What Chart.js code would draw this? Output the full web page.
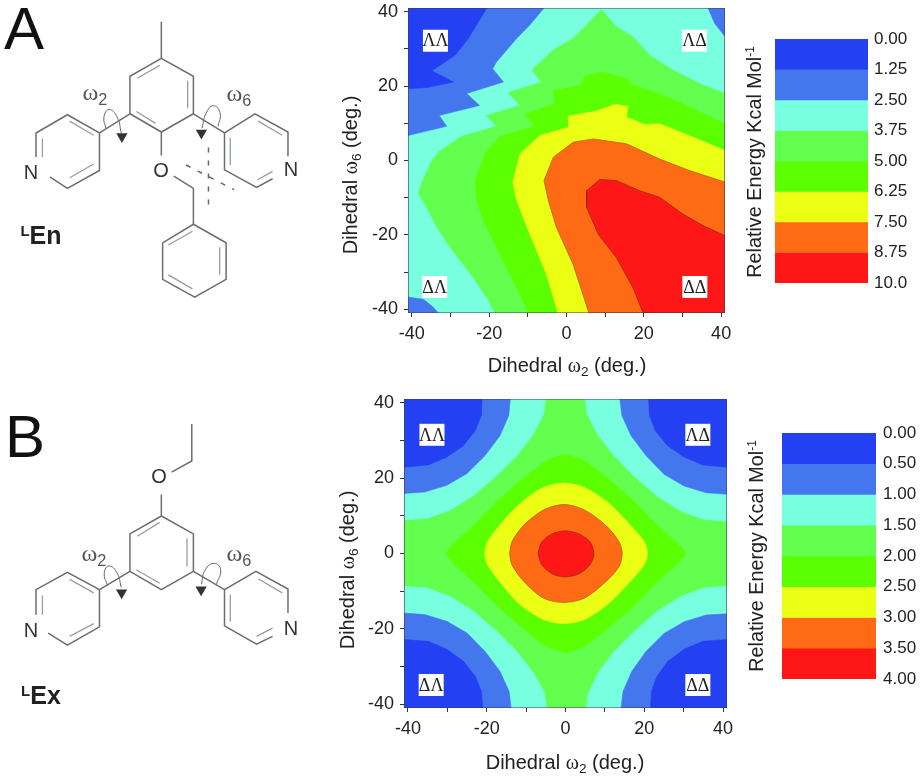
<!DOCTYPE html>
<html>
<head>
<meta charset="utf-8">
<title>Dihedral energy maps</title>
<script src="https://cdn.jsdelivr.net/npm/chart.js@4"></script>
<style>
    html, body { margin: 0; padding: 0; background: #fff; }
    #page { position: relative; width: 921px; height: 778px; overflow: hidden; font-family: "Liberation Sans", Arial, sans-serif; color: #222; }
    canvas { position: absolute; }
    .t { position: absolute; white-space: nowrap; transform: translate(-50%, -50%); line-height: 1; }
    .rot { transform: translate(-50%, -50%) rotate(-90deg); }
    .axis { font-size: 20px; }
    .bar { font-size: 19.8px; }
    .w { font-family: "Liberation Serif", serif; }
    .s { font-size: 0.68em; position: relative; top: 0.3em; }
    .sup { font-size: 0.6em; position: relative; top: -0.55em; }
    .mol { font-size: 20px; color: #333; }
    .om { font-size: 24px; color: #555; }
    .big { font-size: 60px; color: #111; }
    .name { font-size: 25px; font-weight: bold; color: #222; }
</style>
</head>
<body>
<div id="page">
    <canvas id="molA" width="340" height="330" style="left:0;top:0"></canvas>
    <canvas id="molB" width="340" height="330" style="left:0;top:400px"></canvas>
    <canvas id="mapA" width="417" height="383" style="left:338px;top:0"></canvas>
    <canvas id="mapB" width="423" height="393" style="left:334px;top:385px"></canvas>
    <canvas id="barA" width="146" height="280" style="left:775px;top:20px"></canvas>
    <canvas id="barB" width="139" height="290" style="left:782px;top:410px"></canvas>

    <span class="t big" style="left:24px;top:29px">A</span>
    <span class="t big" style="left:25px;top:437px">B</span>
    <span class="t mol" style="left:31px;top:172px">N</span>
    <span class="t mol" style="left:291px;top:169px">N</span>
    <span class="t mol" style="left:161px;top:170px">O</span>
    <span class="t om" style="left:95px;top:92px"><span class="w">ω</span><span class="s">2</span></span>
    <span class="t om" style="left:239px;top:93px"><span class="w">ω</span><span class="s">6</span></span>
    <span class="t name" style="left:41px;top:235px"><span class="sup">L</span>En</span>
    <span class="t mol" style="left:31px;top:630px">N</span>
    <span class="t mol" style="left:291px;top:628px">N</span>
    <span class="t mol" style="left:159px;top:476px">O</span>
    <span class="t om" style="left:94px;top:553px"><span class="w">ω</span><span class="s">2</span></span>
    <span class="t om" style="left:239px;top:553px"><span class="w">ω</span><span class="s">6</span></span>
    <span class="t name" style="left:41px;top:695px"><span class="sup">L</span>Ex</span>

    <span class="t axis" style="left:567px;top:365px">Dihedral <span class="w">ω</span><span class="s">2</span> (deg.)</span>
    <span class="t axis rot" style="left:350px;top:175px">Dihedral <span class="w">ω</span><span class="s">6</span> (deg.)</span>
    <span class="t axis" style="left:565px;top:762px">Dihedral <span class="w">ω</span><span class="s">2</span> (deg.)</span>
    <span class="t axis rot" style="left:347px;top:570px">Dihedral <span class="w">ω</span><span class="s">6</span> (deg.)</span>
    <span class="t bar rot" style="left:755px;top:162px">Relative Energy Kcal Mol<span class="sup">-1</span></span>
    <span class="t bar rot" style="left:757px;top:556px">Relative Energy Kcal Mol<span class="sup">-1</span></span>
</div>
<script>
        const fontName = '"Liberation Sans", Arial, sans-serif';
        const axisTicks = [-40, -30, -20, -10, 0, 10, 20, 30, 40];
        const axisEdge = 41;

        const darkBlue = '#2341f2';
        const blue = '#4477ee';
        const cyan = '#78ffe0';
        const lightGreen = '#62ff4e';
        const green = '#5cff02';
        const yellow = '#ebff14';
        const orange = '#ff6a14';
        const red = '#ff1616';
        const levelColors = [darkBlue, blue, cyan, lightGreen, green, yellow, orange, red];

        // contour regions of panel A, [omega2, omega6]
        const aDarkBlue = [[-41, 41], [-41, 19.3], [-36.1, 19.6], [-29.2, 21.1], [-34.8, 24.1], [-28.8, 28.3], [-25.4, 32.8], [-20.6, 41]];
        const aBlue = [[-41, 41], [-41, 6.7], [-31, 9.2], [-32.9, 12.1], [-22.5, 14.8], [-25.8, 18], [-16.3, 21.1], [-19.1, 24.7], [-18.1, 26.5], [-12.9, 32.8], [-9.5, 36.4], [-5.8, 41]];
        const aBlueLow = [[-41, -41], [-41, -36.7], [-37, -37.3], [-34.8, -39.1], [-33.1, -41]];
        const aBlueHigh = [[41, 41], [36.6, 41], [38.3, 36.9], [41, 33.3]];
        const aLightGreen = [[9, 40.6], [5.6, 36.9], [1.7, 32.8], [-3.4, 29.7], [-9, 24.3], [-6.5, 21.1], [-15.1, 18.2], [-12, 14.8], [-20.8, 12.1], [-18.1, 9.2], [-27.1, 6.5], [-32.7, 2.7], [-34.8, 0], [-37.4, -5.8], [-38.3, -8.8], [-35.7, -13.5], [-33.5, -18], [-30.1, -23.4], [-24.1, -31.5], [-20.6, -36.9], [-18.5, -41], [41, -41], [41, 18], [34.4, 20.7], [27.5, 24.3], [21.5, 28.3], [17.2, 33.3], [12.9, 36]];
        const aGreen = [[41, 9.9], [31.8, 14.4], [24.1, 18], [17.2, 20.2], [15.5, 22], [9.5, 23.8], [4.7, 22.7], [3.9, 20.2], [-3.4, 18.9], [-3, 15.3], [-10.8, 12.4], [-8.2, 9.2], [-17.2, 6.5], [-21.1, 1.8], [-23.7, -5.8], [-23.2, -10.8], [-21.5, -16.2], [-17.2, -25.2], [-12.9, -34.2], [-9.9, -41], [41, -41]];
        const aYellow = [[41, 2.7], [32.7, 6.3], [24.1, 9.9], [20.2, 9.7], [15.5, 11.7], [15.9, 14.6], [12.5, 15.1], [7.7, 13.3], [0.4, 11.9], [0.6, 9], [-6.9, 6.7], [-12, 1.8], [-13.9, -5.8], [-12.9, -10.8], [-9.5, -19.8], [-5.2, -30.6], [-2.2, -41], [41, -41]];
        const aOrange = [[41, -5.8], [31.8, -2.7], [24.1, 0.4], [15.5, 4.5], [6.9, 5.8], [1.7, 4.9], [-3.4, 0.9], [-5.8, -5.4], [-4.7, -10.8], [-2.6, -18], [1.7, -27.9], [5.8, -41], [41, -41]];
        const aRed = [[41, -20.2], [35.3, -17.5], [30.1, -14.4], [24.1, -9.9], [18.9, -8.1], [12.9, -5.4], [8.6, -5.1], [5.2, -8.1], [5.2, -12.6], [8.2, -19.8], [12.9, -26.1], [17.2, -34.2], [19.8, -41], [41, -41]];

        // contour regions of panel B, corner by corner
        const bCyanTL = [[-41, 41], [-5.1, 41], [-5.5, 37], [-8.1, 31.7], [-12.3, 26], [-17.4, 20.7], [-23.3, 15.4], [-29.3, 11.5], [-35.2, 9.3], [-41, 8.9]];
        const bCyanTR = [[41, 41], [5, 41], [5.5, 37], [8.1, 31.7], [12.3, 26], [17.4, 20.5], [23.3, 15.2], [29.3, 11.2], [35.2, 9], [41, 8.6]];
        const bCyanBL = [[-41, -41], [-4.8, -41], [-5.3, -37], [-8.1, -31.7], [-12.3, -26], [-17.4, -20.7], [-23.3, -15.3], [-29.3, -11.4], [-35.2, -9.1], [-41, -8.7]];
        const bCyanBR = [[41, -41], [5.3, -41], [5.8, -37], [8.3, -31.7], [12.3, -26], [17.4, -20.7], [23.3, -15.3], [29.3, -11.4], [35.2, -9.1], [41, -8.7]];
        const bBlueTL = [[-41, 41], [-14, 41], [-14.4, 36.6], [-16.6, 31.3], [-20.4, 26], [-25, 21.2], [-30.1, 18.1], [-35.7, 16.3], [-41, 15.9]];
        const bBlueTR = [[41, 41], [13.8, 41], [14.3, 36.6], [16.6, 31.3], [20.4, 26], [25, 21], [30.1, 17.9], [35.7, 16.1], [41, 15.7]];
        const bBlueBL = [[-41, -41], [-13.8, -41], [-14.3, -36.6], [-16.6, -31.3], [-20.4, -26], [-25, -21.1], [-30.1, -18], [-35.7, -16.2], [-41, -15.8]];
        const bBlueBR = [[41, -41], [14.1, -41], [14.6, -36.6], [16.8, -31.3], [20.4, -26], [25, -21.2], [30.1, -18.1], [35.7, -16.3], [41, -16]];
        const bDarkBlueTL = [[-41, 41], [-21.2, 41], [-21.4, 36.6], [-22.9, 32.6], [-25.9, 28.6], [-30.1, 25.6], [-34.8, 23.5], [-41, 22.9]];
        const bDarkBlueTR = [[41, 41], [21.1, 41], [21.3, 36.6], [22.8, 32.6], [25.9, 28.6], [30.1, 25.6], [34.8, 23.5], [41, 22.9]];
        const bDarkBlueBL = [[-41, -41], [-21, -41], [-21.3, -36.6], [-22.9, -32.6], [-25.9, -28.6], [-30.1, -25.4], [-34.8, -23.3], [-41, -22.8]];
        const bDarkBlueBR = [[41, -41], [21.6, -41], [21.8, -36.6], [23.2, -32.6], [26, -28.6], [30.1, -25.4], [34.8, -23.3], [41, -22.8]];
        const bGreen = [[-30.4, 0], [-28.4, 2.7], [-23.3, 7.5], [-16.6, 14.6], [-9.8, 20.7], [-4.7, 24.7], [0, 26.2], [4.7, 24.7], [9.8, 20.7], [16.6, 14.6], [23.3, 7.5], [28.4, 2.7], [30.5, 0], [28.4, -2.7], [23.3, -7.5], [16.6, -14.6], [9.8, -20.7], [4.7, -24.7], [0, -26.3], [-4.7, -24.7], [-9.8, -20.7], [-16.6, -14.6], [-23.3, -7.5], [-28.4, -2.7]];
        const bYellow = [[-20.6, 0], [-19.8, 3.1], [-15.7, 8.8], [-10.6, 14.1], [-5.5, 17.6], [-0.4, 18.7], [4.7, 17.6], [10.6, 13.7], [15.7, 8.4], [20, 3.1], [20.8, 0], [20, -3], [15.7, -8.3], [10.6, -13.6], [4.7, -17.6], [-0.4, -18.6], [-5.5, -17.6], [-11.5, -13.6], [-16.1, -8.3], [-19.8, -3]];
        const bOrange = [[-14.2, 0], [-13.6, 3.1], [-10.6, 7.5], [-5.5, 11.6], [-0.4, 13], [4.7, 11.6], [10.2, 7.5], [13.6, 3.1], [14.4, 0], [13.6, -3.5], [9.8, -7.9], [4.7, -11.9], [-0.4, -13], [-5.5, -11.9], [-10.6, -7.4], [-13.6, -3]];
        const bRed = [[-7, 0], [-6, 3.1], [-3.4, 5.2], [0, 6], [3.4, 5.2], [6.2, 3.1], [7.2, 0], [6.2, -3], [3.4, -5.4], [0, -6.2], [-3.4, -5.4], [-6, -3]];

        const wholeMap = [[-41, -41], [41, -41], [41, 41], [-41, 41]];

        // corner tags of the maps
        const cornerText = ['ΛΛ', 'ΛΔ', 'ΔΛ', 'ΔΔ'];
        const cornerXA = [-33.9, 33.1, -34.1, 33.2];
        const cornerYA = [32.2, 32.2, -34, -34];
        const cornerXB = [-33.9, 33.6, -34.1, 33.6];
        const cornerYB = [31.5, 31.5, -34.9, -34.9];

        // colour bars
        const levelsA = [0, 1.25, 2.5, 3.75, 5, 6.25, 7.5, 8.75, 10];
        const levelLabelsA = ['0.00', '1.25', '2.50', '3.75', '5.00', '6.25', '7.50', '8.75', '10.0'];
        const levelsB = [0, 0.5, 1, 1.5, 2, 2.5, 3, 3.5, 4];
        const levelLabelsB = ['0.00', '0.50', '1.00', '1.50', '2.00', '2.50', '3.00', '3.50', '4.00'];

        // structure drawings, polylines as x,y,x,y...
        const bondsA = [
            [483, 48, 483, 162],
            [483, 162, 583, 218, 583, 335, 483, 392, 385, 335, 385, 218, 483, 162],
            [385, 335, 290, 395, 190, 338, 92, 395, 92, 470],
            [290, 395, 290, 512, 190, 568, 135, 532],
            [583, 335, 680, 395, 775, 335, 878, 392, 878, 468],
            [680, 395, 680, 510, 780, 565, 830, 538],
            [483, 392, 483, 465],
            [522, 530, 583, 568, 583, 680],
            [583, 680, 685, 738, 685, 852, 587, 908, 487, 852, 487, 738, 583, 680]
        ];
        const innerA = [
            [478, 184, 408, 224], [565, 232, 565, 318], [405, 328, 465, 365],
            [197, 358, 272, 402], [272, 492, 197, 535], [112, 412, 112, 470],
            [698, 410, 698, 495], [785, 358, 860, 402], [782, 542, 830, 515],
            [580, 702, 505, 745], [665, 752, 665, 838], [505, 838, 580, 882]
        ];
        const turnsA = [
            [310, 380, 304, 345, 320, 322, 345, 345, 358, 395],
            [660, 375, 666, 332, 645, 310, 622, 335, 610, 380]
        ];
        const headsA = [[360, 406], [608, 395]];
        const dashesA = [[630, 440, 630, 625], [560, 495, 710, 572]];

        const bondsB = [
            [578, 55, 578, 170, 515, 205],
            [483, 275, 483, 342],
            [483, 342, 583, 398, 583, 515, 483, 572, 385, 515, 385, 398, 483, 342],
            [385, 515, 290, 572, 190, 518, 92, 572, 92, 650],
            [290, 572, 290, 688, 190, 745, 130, 708],
            [583, 515, 680, 572, 778, 515, 878, 570, 878, 645],
            [680, 572, 680, 685, 780, 742, 830, 718]
        ];
        const innerB = [
            [478, 362, 408, 405], [563, 412, 563, 500], [405, 510, 478, 552],
            [197, 540, 272, 582], [272, 678, 197, 718], [112, 590, 112, 650],
            [698, 588, 698, 672], [785, 538, 860, 582], [780, 718, 830, 692]
        ];
        const turnsB = [
            [315, 560, 305, 520, 320, 498, 345, 520, 358, 565],
            [655, 555, 668, 510, 648, 490, 620, 510, 608, 555]
        ];
        const headsB = [[359, 582], [607, 572]];

        function region(points, color, edge, bend) {
            return {
                data: points.concat([points[0]]).map(p => ({x: p[0], y: p[1]})),
                showLine: true,
                pointRadius: 0,
                backgroundColor: color,
                borderColor: edge || color,
                borderWidth: edge ? 0.7 : 0.5,
                tension: bend || 0,
                fill: 'shape'
            };
        }

        function frame() {
            return {
                data: wholeMap.concat([wholeMap[0]]).map(p => ({x: p[0], y: p[1]})),
                showLine: true,
                pointRadius: 0,
                borderColor: '#3a3f55',
                borderWidth: 1.2,
                fill: false
            };
        }

        const cornerTags = {
            id: 'cornerTags',
            afterDatasetsDraw(chart, args, opts) {
                const c = chart.ctx;
                c.save();
                c.font = '18px "Liberation Serif", serif';
                c.textAlign = 'center';
                c.textBaseline = 'middle';
                cornerText.forEach((txt, i) => {
                    const px = chart.scales.x.getPixelForValue(opts.xs[i]);
                    const py = chart.scales.y.getPixelForValue(opts.ys[i]);
                    c.fillStyle = '#fff';
                    c.fillRect(px - 12.5, py - 11, 25, 22);
                    c.fillStyle = '#222';
                    c.fillText(txt, px, py + 1);
                });
                c.restore();
            }
        };

        function mapAxis(fit) {
            return {
                type: 'linear',
                min: -axisEdge,
                max: axisEdge,
                afterBuildTicks: axis => { axis.ticks = axisTicks.map(v => ({value: v})); },
                afterFit: fit,
                ticks: {
                    autoSkip: false,
                    maxRotation: 0,
                    padding: 6,
                    color: '#222',
                    font: {family: fontName, size: 18},
                    callback: v => (v % 20 === 0 ? String(v) : '')
                },
                grid: {drawOnChartArea: false, tickLength: 4, color: '#333'},
                border: {display: false}
            };
        }

        // the first dataset is painted last by Chart.js, so the stack is turned round
        function drawMap(id, regions, xs, ys, top) {
            return new Chart(document.getElementById(id).getContext('2d'), {
                type: 'scatter',
                data: {datasets: [frame()].concat(regions.slice().reverse())},
                options: {
                    responsive: false,
                    animation: false,
                    layout: {padding: {top: top, right: 30}},
                    plugins: {legend: {display: false}, tooltip: {enabled: false}, cornerTags: {xs: xs, ys: ys}},
                    scales: {
                        x: mapAxis(s => { s.height = 70; s.paddingLeft = 0; s.paddingRight = 0; }),
                        y: mapAxis(s => { s.width = 70; s.paddingTop = 0; s.paddingBottom = 0; })
                    }
                },
                plugins: [cornerTags]
            });
        }

        function drawBar(id, levels, labels, rightWidth, top, bottom, gap) {
            return new Chart(document.getElementById(id).getContext('2d'), {
                type: 'bar',
                data: {
                    labels: ['energy'],
                    datasets: levelColors.map((color, i) => ({
                        data: [[levels[i], levels[i + 1]]],
                        backgroundColor: color,
                        barPercentage: 1,
                        categoryPercentage: 1,
                        grouped: false
                    }))
                },
                options: {
                    responsive: false,
                    animation: false,
                    layout: {padding: {top: top, bottom: bottom}},
                    plugins: {legend: {display: false}, tooltip: {enabled: false}},
                    scales: {
                        x: {display: false},
                        y: {
                            position: 'right',
                            reverse: true,
                            min: levels[0],
                            max: levels[levels.length - 1],
                            afterBuildTicks: axis => { axis.ticks = levels.map(v => ({value: v})); },
                            afterFit: s => { s.width = rightWidth; },
                            ticks: {
                                autoSkip: false,
                                padding: gap,
                                color: '#222',
                                font: {family: fontName, size: 17},
                                callback: (v, i) => labels[i]
                            },
                            grid: {display: false, drawTicks: false},
                            border: {display: false}
                        }
                    }
                }
            });
        }

        function polyData(lines) {
            const out = [];
            lines.forEach(line => {
                for (let i = 0; i < line.length; i += 2) out.push({x: line[i], y: line[i + 1]});
                out.push({x: null, y: null});
            });
            return out;
        }

        function drawMolecule(id, bonds, inner, turns, heads, dashes) {
            const line = (lines, color, width, dash, bend) => ({
                data: polyData(lines),
                showLine: true,
                spanGaps: false,
                pointRadius: 0,
                borderColor: color,
                borderWidth: width,
                borderDash: dash || [],
                tension: bend || 0,
                fill: false
            });
            return new Chart(document.getElementById(id).getContext('2d'), {
                type: 'scatter',
                data: {
                    datasets: [
                        line(bonds, '#6a6e70', 1.5),
                        line(inner, '#999c9e', 1.3),
                        line(turns, '#666', 1, [], 0.5),
                        line(dashes, '#666', 1.5, [5, 8]),
                        {
                            data: heads.map(p => ({x: p[0], y: p[1]})),
                            pointStyle: 'triangle',
                            pointRotation: 180,
                            pointRadius: 6.5,
                            backgroundColor: '#333',
                            borderWidth: 0
                        }
                    ]
                },
                options: {
                    responsive: false,
                    animation: false,
                    plugins: {legend: {display: false}, tooltip: {enabled: false}},
                    scales: {
                        x: {display: false, min: 0, max: 1020},
                        y: {display: false, min: 0, max: 990, reverse: true}
                    }
                }
            });
        }

        drawMolecule('molA', bondsA, innerA, turnsA, headsA, dashesA);
        drawMolecule('molB', bondsB, innerB, turnsB, headsB, []);

        drawMap('mapA', [
            region(wholeMap, cyan),
            region(aBlue, blue),
            region(aBlueLow, blue),
            region(aBlueHigh, blue),
            region(aDarkBlue, darkBlue),
            region(aLightGreen, lightGreen),
            region(aGreen, green),
            region(aYellow, yellow),
            region(aOrange, orange, '#a85a20'),
            region(aRed, red, '#8a2a10')
        ], cornerXA, cornerYA, 8);

        drawMap('mapB', [
            region(wholeMap, lightGreen),
            region(bCyanTL, cyan), region(bCyanTR, cyan), region(bCyanBL, cyan), region(bCyanBR, cyan),
            region(bBlueTL, blue), region(bBlueTR, blue), region(bBlueBL, blue), region(bBlueBR, blue),
            region(bDarkBlueTL, darkBlue), region(bDarkBlueTR, darkBlue), region(bDarkBlueBL, darkBlue), region(bDarkBlueBR, darkBlue),
            region(bGreen, green, null, 0.2),
            region(bYellow, yellow, null, 0.3),
            region(bOrange, orange, '#a85a20', 0.3),
            region(bRed, red, '#8a2a10', 0.3)
        ], cornerXB, cornerYB, 14);

        drawBar('barA', levelsA, levelLabelsA, 53, 19, 17, 6);
        drawBar('barB', levelsB, levelLabelsB, 45, 23, 21, 7);
</script>
</body>
</html>
